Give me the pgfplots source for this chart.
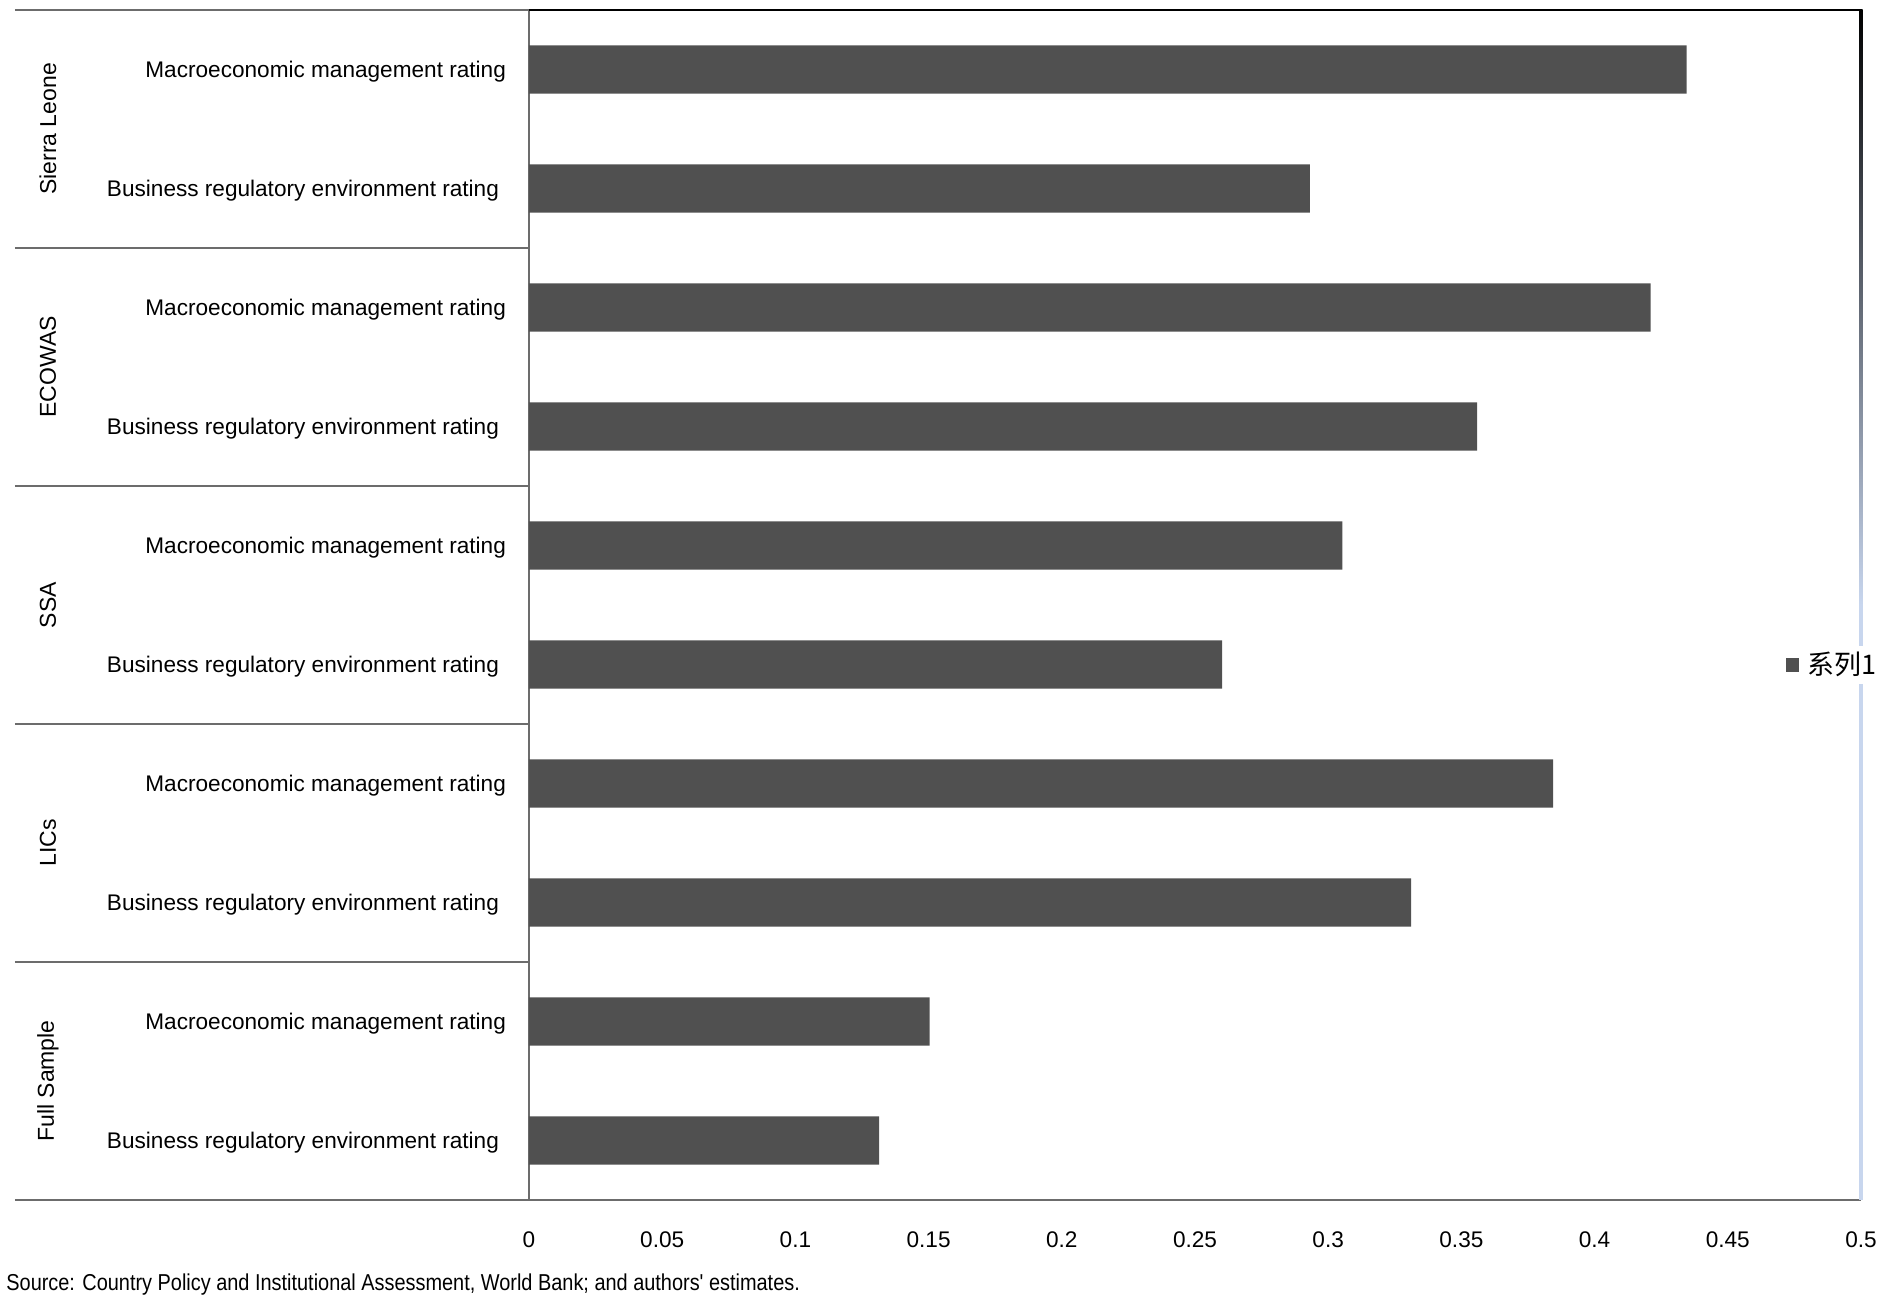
\documentclass[border=0pt]{standalone}
\usepackage{pgfplots}
\pgfplotsset{compat=1.18}
\usepackage{fontspec}
\setmainfont{Liberation Sans}
\newfontfamily\cjk{Noto Sans CJK SC}
\newfontfamily\narrow[FakeStretch=0.866]{Liberation Sans}
\definecolor{barfill}{RGB}{80,80,80}
\definecolor{edgeblue}{RGB}{200,214,238}
\begin{document}
\begin{tikzpicture}
\path[use as bounding box] (0,0) rectangle (943pt,649.5pt);
\begin{axis}[
  at={(264.5pt,49.5pt)}, anchor=south west,
  width=666pt, height=595pt, scale only axis,
  xbar, bar width=0.405,
  xmin=0, xmax=0.5, ymin=0.5, ymax=10.5, y dir=reverse,
  xtick={0,0.05,0.1,0.15,0.2,0.25,0.3,0.35,0.4,0.45,0.5},
  xticklabels={0,0.05,0.1,0.15,0.2,0.25,0.3,0.35,0.4,0.45,0.5},
  ytick={1,2,3,4,5,6,7,8,9,10},
  yticklabels={Macroeconomic management rating, Business regulatory environment rating\rule{3.5pt}{0pt},
               Macroeconomic management rating, Business regulatory environment rating\rule{3.5pt}{0pt},
               Macroeconomic management rating, Business regulatory environment rating\rule{3.5pt}{0pt},
               Macroeconomic management rating, Business regulatory environment rating\rule{3.5pt}{0pt},
               Macroeconomic management rating, Business regulatory environment rating\rule{3.5pt}{0pt}},
  major tick length=0pt,
  tick label style={font=\fontsize{11.3}{13}\selectfont},
  /pgf/number format/assume math mode=true,
  yticklabel style={anchor=east, xshift=-8pt, yshift=-1pt},
  xticklabel style={yshift=-12.5pt},
  axis x line*=bottom, axis y line*=left,
  axis line style={draw=gray!85!black, line width=1pt, -},
  legend style={at={(0.979,0.4496)}, anchor=center, draw=none, fill=white,
    font=\fontsize{13.5}{15}\selectfont, inner sep=1pt},
  legend image code/.code={\fill[barfill] (0pt,-3.3pt) rectangle (6.5pt,3.3pt);},
  clip=false,
]
\addplot[draw=none, fill=barfill] coordinates {
 (0.4345,1) (0.2931,2) (0.4210,3) (0.3559,4) (0.3053,5)
 (0.2602,6) (0.3844,7) (0.3311,8) (0.1504,9) (0.1314,10)};
\addlegendentry{{\hspace{2pt}\cjk 系列1}}
% frame
\draw[black, line width=1.2pt] (axis cs:0,0.5) -- (axis cs:0.5,0.5);
\shade[top color=black, bottom color=edgeblue] ([xshift=-0.8pt]axis cs:0.5,0.5) rectangle ([xshift=0.8pt]axis cs:0.5,5.5);
\fill[edgeblue] ([xshift=-0.8pt]axis cs:0.5,5.5) rectangle ([xshift=0.8pt]axis cs:0.5,10.5);
% group separators
\pgfplotsinvokeforeach{0.5,2.5,4.5,6.5,8.5,10.5}{
  \draw[gray!85!black, line width=1pt] ([xshift=-257pt]axis cs:0,#1) -- (axis cs:0,#1);
}
% group labels
\node[rotate=90, font=\fontsize{11.5}{13}\selectfont] at ([xshift=-240.5pt]axis cs:0,1.5) {Sierra Leone};
\node[rotate=90, font=\fontsize{11.5}{13}\selectfont] at ([xshift=-240.5pt]axis cs:0,3.5) {ECOWAS};
\node[rotate=90, font=\fontsize{11.5}{13}\selectfont] at ([xshift=-240.5pt]axis cs:0,5.5) {SSA};
\node[rotate=90, font=\fontsize{11.5}{13}\selectfont] at ([xshift=-240.5pt]axis cs:0,7.5) {LICs};
\node[rotate=90, font=\fontsize{11.5}{13}\selectfont] at ([xshift=-240.5pt]axis cs:0,9.5) {Full Sample};
% source
\node[anchor=west, font=\narrow\fontsize{11.5}{13}\selectfont, inner sep=0pt] at ([xshift=-261.5pt, yshift=-42.5pt]axis cs:0,10.5) {Source: Country Policy and Institutional Assessment, World Bank; and authors' estimates.};
\end{axis}
\end{tikzpicture}
\end{document}
